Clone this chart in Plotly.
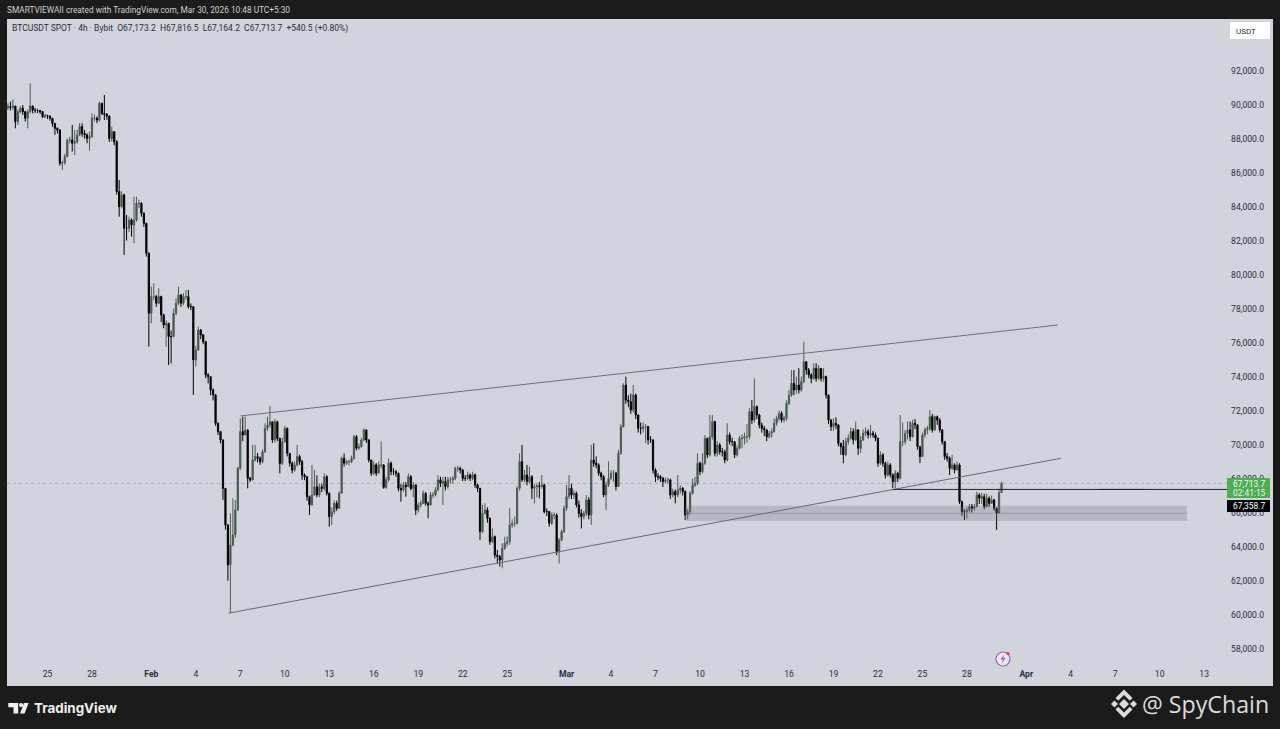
import pandas as pd
import plotly.graph_objects as go

# ---------- data ----------
closes = [
89870,89830,89910,88990,89580,89780,89580,89190,89580,89910,89680,89640,89640,89580,89280,89340,89320,89190,88890,88600,
88500,86540,86580,86930,87910,87910,87720,87810,88210,88700,88300,88210,88010,88110,89190,89190,89090,90070,89480,89420,
89320,87990,88400,87810,84880,83990,84680,82720,82720,83210,82910,83210,84190,84190,83600,83010,81250,77720,78700,78700,
78310,78700,77620,77030,77130,76350,76350,77720,78310,78800,78310,78700,78700,78110,78110,74980,75560,76740,76450,76050,
74090,73990,73210,72920,71250,70760,70270,67420,65270,62920,64090,64680,66150,68600,70760,70560,70850,68010,67910,69090,
69290,69190,68990,69580,70950,71150,71340,70270,71340,70360,68890,70170,70950,69480,68900,68500,68800,69290,68990,68210,
68110,66930,66450,67030,67520,67030,67520,67420,68110,67130,65760,66050,66540,66250,67130,69190,68900,68990,68990,69190,
70460,69780,69880,70270,70850,70270,69090,68310,68800,68310,68800,68800,67480,67920,68900,68400,68400,68310,67420,67330,
67620,67520,68110,67420,67620,66150,66450,66540,67130,66540,66450,67030,67030,67330,67920,67720,67820,67520,67920,67920,
68010,68600,68600,68500,68010,68010,68210,68010,68210,67620,67420,64880,65950,66150,65660,64290,64580,63500,63410,63210,
63900,64190,64290,65270,65370,65370,67430,68990,67920,68210,67820,68110,67430,67530,67570,67530,67620,66050,66050,65370,
65860,65860,63700,64390,64880,66250,66940,67430,67030,67130,66450,65960,65760,65960,66740,65860,69090,68900,68800,68310,
68110,67030,67620,68010,68310,68310,67530,69480,71050,73500,72620,72520,72030,72910,71740,70950,70950,71050,71050,70270,
70270,68500,68110,68110,68010,67820,67920,67920,67030,67230,67030,67330,67430,67230,65860,66050,67130,67620,67720,68900,
68400,68900,70360,69390,70460,71350,69480,69970,69580,69580,69090,70560,70170,70170,69390,69780,70360,70370,70460,70460,
71930,71440,72230,71740,71150,70950,70860,70460,70660,70760,71250,71540,71840,71440,71540,72420,72910,73600,73210,73500,
73210,73700,74870,74380,74090,73890,74480,73890,74480,73890,74000,72910,71440,71050,71250,71150,70070,69880,69390,70170,
70370,70760,70270,70860,69780,70270,70660,70760,70560,70660,70560,70370,68900,69390,68900,68210,68800,68210,67820,68310,
68020,70170,70170,70660,70860,70460,71250,71150,69880,69290,70560,70860,70950,71640,70860,71640,71440,70860,70170,69290,
69190,68600,68800,68500,68800,66640,66050,66050,66150,66350,66250,66350,67030,66840,66930,66350,66840,66540,66740,66250,
65960,67173.2,67713.7,
]
highs = [
90070,90170,90300,89910,89700,89910,89970,89600,89700,91240,89950,89800,89750,89680,89600,89450,89400,89350,89200,88900,
88650,88550,86700,87100,88000,88100,88800,88500,88500,88900,88900,88500,88300,88400,89480,89400,89300,90170,90110,90560,
89500,89350,88700,88400,87900,85560,84900,84750,83500,83400,83300,84580,84580,84400,84250,83650,83050,81300,79290,79480,
78800,79190,78750,77700,77300,77150,76700,78000,78600,79290,78850,78900,79090,79090,78300,78150,75800,76940,76800,76500,
76100,74200,74000,73300,72950,71300,70800,70300,67450,65300,65950,66840,66740,68700,71540,71640,71640,70900,68100,69970,
69970,69500,69300,69700,71250,71640,72270,71300,71500,71400,70400,70400,71100,71000,69500,69000,69000,69970,69400,69100,
68300,68150,67000,68800,68500,68200,67700,67700,68300,68200,67200,66300,66700,66700,67250,69290,69480,69100,69100,69350,
70560,70550,70050,70400,70950,70900,70300,69100,69000,68900,69000,70170,68850,68100,69190,69000,68600,68500,68350,67700,
67800,67800,68300,68200,67800,67650,66600,66700,67300,67200,66650,67200,67200,67500,68200,68100,68100,68100,68100,68100,
68150,68700,68750,68700,68550,68200,68400,68300,68400,68300,67700,67450,66450,66540,66300,65700,65070,64650,63800,63500,
64200,64580,64600,66250,65600,65760,67550,69480,69970,68500,68800,68700,68200,67700,67700,67800,68210,67700,66250,66100,
66000,66000,65950,64500,65000,66400,67620,68210,67700,67300,67230,66700,66200,66100,67030,66900,69970,70070,69300,68900,
68400,68200,67800,69000,68500,68500,68400,69680,71200,73600,73990,72900,73000,73500,73000,71600,71300,71300,71200,71100,
70500,70300,68600,68300,68200,68100,68050,68050,68000,67400,67350,68210,67600,67500,67300,66200,67250,68000,68100,69480,
69000,69480,70560,70400,71740,71740,71400,70200,70100,69800,69700,71250,70700,70400,70200,69950,70500,70600,70700,71200,
72130,72620,73890,72300,71800,71300,71100,70900,70800,70950,71540,71700,72000,71950,71700,72600,73210,74380,74380,74000,
74490,74000,76050,74880,74500,74200,74780,74780,74680,74480,74480,74050,72950,71500,71540,71600,71200,70100,70270,70400,
70600,71000,70950,71350,70900,70500,70900,71000,70900,71150,70800,70700,70400,69600,69500,69000,69000,68900,68300,68500,
68400,71740,71300,70850,71350,71350,71450,71500,71200,69900,70700,71000,71100,72030,71800,71700,71700,71550,70900,70200,
69500,69300,69390,68900,69000,68900,66700,66200,66300,66500,66500,66500,67230,67150,67150,67100,67100,66950,67000,66800,
66300,67400,67816.5,
]
lows = [
89680,89650,89680,88600,88800,89480,89380,88990,88600,89480,89480,89500,89500,89450,89200,89200,89150,89050,88700,88210,
88300,86400,86150,86440,86900,87700,87230,87030,87700,88150,88100,88000,87720,87290,88050,89000,88900,88990,89380,89090,
89100,87800,87820,87600,84700,83400,83900,81150,82000,82500,82230,81840,83100,83900,83400,82800,81050,75760,77130,78500,
78100,78250,77200,76840,75760,74680,74780,76300,77600,78200,78100,78200,78500,78000,77900,72920,74590,75500,76200,75900,
73900,73600,72900,72600,71100,70560,70070,66740,65000,62000,60080,64000,64500,66100,68500,70200,70600,67420,67800,67900,
69000,68950,68800,68900,69500,70800,71000,70100,70100,70200,68300,68800,70100,69300,68700,68300,68400,68700,68800,67920,
67900,66700,65860,66400,67000,66900,66900,67200,67300,67000,65170,65270,65900,66100,66200,67100,68700,68800,68750,68900,
69100,69650,69700,69800,70200,70100,68950,68150,68200,68150,68300,68600,67400,67400,67800,68200,68200,68100,67250,66640,
67200,66930,67500,67300,66900,65860,66000,66300,66500,66400,65660,66400,66850,66950,67250,67500,66450,67300,67400,67700,
67700,67900,68400,68300,67850,67850,67900,67850,67900,67450,67200,64390,64800,65900,65400,64100,64200,63300,63000,62820,
62720,63800,64000,64100,65100,65150,65300,67300,67800,67800,67600,67700,66800,66540,66900,66840,67400,65950,65800,65170,
65270,65600,63500,63000,64300,64800,66100,66800,66800,66800,66300,65700,65070,65600,65800,65600,65270,68700,68600,68150,
67900,66900,66150,67500,67900,67800,67300,67500,69400,71000,72400,72200,71800,71900,71500,70700,70600,70700,70100,70000,
70100,68300,67800,67900,67800,67500,67700,67700,66800,66900,66540,66900,67100,67000,65560,65600,65900,67050,67500,67600,
68200,68300,68800,69200,69300,70300,69300,69300,69400,69300,68900,69000,70000,69900,69200,69300,69700,69780,70000,70100,
70300,71200,71300,71500,70950,70700,70500,70200,70350,70400,70700,71100,71400,71300,71300,71400,72300,72800,72900,73000,
73000,73100,73600,74100,73900,73600,73800,73700,73800,73700,73700,72700,71200,70800,70800,70900,69900,69390,68900,69300,
70000,70300,70000,70200,69390,69500,70200,70500,70350,70400,70400,70200,68700,68800,68700,68000,68100,68050,67430,67430,
67800,67950,69900,70000,70300,70200,70400,70900,69700,68900,69300,70400,70600,70800,70700,70800,71150,70700,70000,69100,
69000,68210,68500,68300,68500,66500,65800,65560,65650,66000,66000,66100,66300,66500,66500,66200,66300,66350,66500,66100,
64980,65950,67164.2,
]
opens = [89800] + closes[:-1]
times = pd.date_range(end="2026-03-30 08:00", periods=len(closes), freq="4h")

price_ticks = [92000,90000,88000,86000,84000,82000,80000,78000,76000,74000,72000,70000,68000,66000,64000,62000,60000,58000]
price_labels = [f"{v:,.1f}" for v in price_ticks]
date_ticks = ["2026-01-25","2026-01-28","2026-02-01","2026-02-04","2026-02-07","2026-02-10","2026-02-13",
              "2026-02-16","2026-02-19","2026-02-22","2026-02-25","2026-03-01","2026-03-04","2026-03-07",
              "2026-03-10","2026-03-13","2026-03-16","2026-03-19","2026-03-22","2026-03-25","2026-03-28",
              "2026-04-01","2026-04-04","2026-04-07","2026-04-10","2026-04-13"]
date_labels = ["25","28","<b>Feb</b>","4","7","10","13","16","19","22","25","<b>Mar</b>","4","7","10","13",
               "16","19","22","25","28","<b>Apr</b>","4","7","10","13"]

last_close = 67713.7
level_price = 67358.7
upper_line_t = ["2026-02-07 00:00", "2026-04-03 03:20"]
upper_line_p = [71680, 77030]
lower_line_t = ["2026-02-06 05:00", "2026-04-03 08:00"]
lower_line_p = [60080, 69190]
level_start = "2026-03-23 00:00"
zone_t = ["2026-03-09 00:00", "2026-04-11 20:00"]
zone_p = [65500, 66400]
zone_mid = 65950

# ---------- page layout helpers (pixels to paper) ----------
W, H = 1280, 729
L, R, T, B = 7, 1273, 19, 686
def X(px): return (px - L) / (R - L)
def Y(py): return (B - py) / (B - T)
BG, PANEL, INK = "#1b1b1b", "#d1d4dd", "#2a2e39"
SCALE_EDGE = X(1228)

def rect(x0, y0, x1, y1, fill, line=None, rx=None):
    return dict(type="rect", xref="paper", yref="paper", x0=X(x0), x1=X(x1), y0=Y(y1), y1=Y(y0),
                fillcolor=fill, line=dict(width=0) if line is None else line, layer="above")

def poly(points, fill):
    d = "M " + " L ".join(f"{X(a):.5f},{Y(b):.5f}" for a, b in points) + " Z"
    return dict(type="path", xref="paper", yref="paper", path=d, fillcolor=fill, line=dict(width=0), layer="above")

def text(px, py, s, size, color, anchor="left", font="Roboto", **kw):
    return dict(xref="paper", yref="paper", x=X(px), y=Y(py), text=s, showarrow=False, xanchor=anchor,
                yanchor="middle", font=dict(family=font, size=size, color=color), align=anchor, **kw)

fig = go.Figure(go.Candlestick(
    x=times, open=opens, high=highs, low=lows, close=closes,
    increasing=dict(line=dict(color="#4b5c51", width=1), fillcolor="#3d5245"),
    decreasing=dict(line=dict(color="#000000", width=1), fillcolor="#000000"),
    whiskerwidth=0, hoverinfo="skip", showlegend=False,
))

shapes = [
    # current price dotted line
    dict(type="line", xref="x domain", yref="y", x0=0, x1=SCALE_EDGE, y0=last_close, y1=last_close,
         line=dict(color="rgba(90,90,100,0.3)", width=1, dash="dot"), layer="above"),
    # trend lines
    dict(type="line", xref="x", yref="y", x0=upper_line_t[0], x1=upper_line_t[1], y0=upper_line_p[0], y1=upper_line_p[1],
         line=dict(color="#6c707c", width=1), layer="above"),
    dict(type="line", xref="x", yref="y", x0=lower_line_t[0], x1=lower_line_t[1], y0=lower_line_p[0], y1=lower_line_p[1],
         line=dict(color="#666a76", width=1), layer="above"),
    # level
    dict(type="line", xref="x", yref="y", x0=level_start, x1="2026-04-09", y0=level_price, y1=level_price,
         line=dict(color="#20232b", width=1), layer="above"),
    dict(type="line", xref="paper", yref="y", x0=X(1100), x1=SCALE_EDGE, y0=level_price, y1=level_price,
         line=dict(color="#20232b", width=1), layer="above"),
    # zone
    dict(type="rect", xref="x", yref="y", x0=zone_t[0], x1=zone_t[1], y0=zone_p[0], y1=zone_p[1],
         fillcolor="rgba(110,113,125,0.28)", line=dict(width=0), layer="above"),
    dict(type="line", xref="x", yref="y", x0=zone_t[0], x1=zone_t[1], y0=zone_mid, y1=zone_mid,
         line=dict(color="rgba(110,113,125,0.4)", width=1), layer="above"),
    # price scale chips
    rect(1230, 22, 1270, 39, "#ffffff"),
    rect(1227, 478, 1270, 498, "#4caf50"),
    rect(1227, 500, 1270, 512, "#000000"),
    # tradingview logo
    poly([(8.3,703),(18.2,703),(18.2,713.5),(13.5,713.5),(13.5,707.2),(8.3,707.2)], "#f0f0f0"),
    dict(type="circle", xref="paper", yref="paper", x0=X(19), x1=X(23.2), y0=Y(707.2), y1=Y(703),
         fillcolor="#f0f0f0", line=dict(width=0), layer="above"),
    poly([(24,703),(28.6,703),(24.6,713.5),(20,713.5)], "#f0f0f0"),
    # binance mark
    poly([(1124,699),(1129,704),(1124,709),(1119,704)], "#dcdcdc"),
    poly([(1111,704),(1114.5,700.5),(1118,704),(1114.5,707.5)], "#dcdcdc"),
    poly([(1130,704),(1133.5,700.5),(1137,704),(1133.5,707.5)], "#dcdcdc"),
    poly([(1124,689.5),(1132.5,698),(1129.8,700.7),(1124,695),(1118.2,700.7),(1115.5,698)], "#dcdcdc"),
    poly([(1124,718),(1132.5,709.5),(1129.8,706.8),(1124,712.5),(1118.2,706.8),(1115.5,709.5)], "#dcdcdc"),
    # lightning badge
    dict(type="circle", xref="paper", yref="paper", x0=X(996), x1=X(1010), y0=Y(666), y1=Y(652),
         fillcolor="#ece6f0", line=dict(color="#9a5fb8", width=1.2), layer="above"),
    poly([(1004.2,654.5),(1000.5,659.5),(1002.8,659.5),(1001.6,663.5),(1005.6,657.8),(1003.2,657.8)], "#9a5fb8"),
    dict(type="circle", xref="paper", yref="paper", x0=X(1006.4), x1=X(1009.6), y0=Y(655.2), y1=Y(652),
         fillcolor="#e53935", line=dict(width=0), layer="above"),
]

annotations = [
    text(5, 10, "SMARTVIEWAII created with TradingView.com, Mar 30, 2026 10:48 UTC+5:30", 8.3, "#d0d0d0"),
    text(10, 29, "BTCUSDT SPOT · 4h · Bybit  O67,173.2  H67,816.5  L67,164.2  C67,713.7  +540.5 (+0.80%)", 8.5, INK),
    text(1245.5, 31, "USDT", 8, INK, "center"),
    text(1249, 483.5, "67,713.7", 8.4, "#ffffff", "center"),
    text(1249, 493, "02:41:15", 8.4, "#e8f5e9", "center"),
    text(1249, 506, "67,358.7", 8.4, "#ffffff", "center"),
    text(32, 708, "<b>TradingView</b>", 13.4, "#f0f0f0", font="Inter"),
    text(1271, 704, "@ SpyChain", 23.2, "#dcdcdc", "right", font="Open Sans"),
]

fig.update_layout(
    width=W, height=H,
    margin=dict(l=L, r=W - R, t=T, b=H - B, pad=0),
    paper_bgcolor=BG, plot_bgcolor=PANEL,
    showlegend=False, shapes=shapes, annotations=annotations,
    xaxis=dict(type="date", range=["2026-01-22 06:27", "2026-04-17 15:22"], rangeslider=dict(visible=False),
               showgrid=False, zeroline=False, showline=False, ticks="", tickmode="array",
               tickvals=date_ticks, ticktext=date_labels, ticklabelposition="inside",
               tickfont=dict(family="Roboto", size=8.6, color=INK), tickangle=0, ticklabelstandoff=4),
    yaxis=dict(side="right", range=[55797, 95029], showgrid=False, zeroline=False, showline=False, ticks="",
               tickmode="array", tickvals=price_ticks, ticktext=price_labels, ticklabelposition="inside",
               tickfont=dict(family="Roboto", size=8.6, color=INK), ticklabelstandoff=6),
)

fig.write_html("out.html", config={"displayModeBar": False}, post_script="document.body.style.margin='0';")
